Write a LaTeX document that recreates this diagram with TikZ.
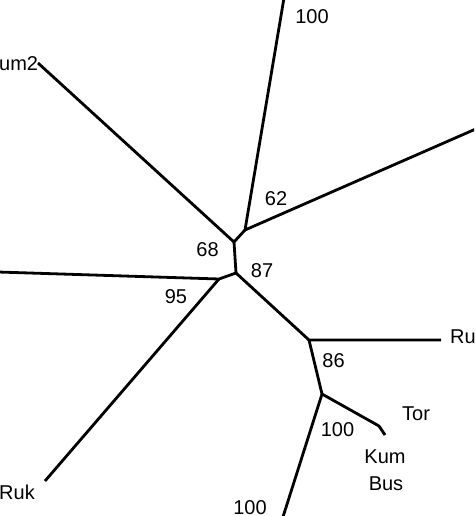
\documentclass[tikz,border=0pt]{standalone}
\usepackage{fontspec}
\setmainfont{Liberation Sans}
\begin{document}
\begin{tikzpicture}[x=1pt,y=-1pt,
  br/.style={line width=2.8pt,line join=round,line cap=butt},
  lbl/.style={inner sep=0pt,font=\fontsize{20}{22}\selectfont}]
\useasboundingbox (0,0) rectangle (474,516);
\clip (0,0) rectangle (474,516);
% internal nodes
\coordinate (A) at (245,230);
\coordinate (B) at (234,242);
\coordinate (C) at (236,273);
\coordinate (D) at (219,279);
\coordinate (E) at (309,340);
\coordinate (F) at (322,394);
% leaves
\coordinate (Ltop) at (284,-2);
\coordinate (Lright) at (478,128);
\coordinate (Lum) at (38,63);
\coordinate (Lleft) at (-2,272);
\coordinate (Lruk) at (45,481);
\coordinate (Lru) at (441,340);
\coordinate (Ltk1) at (379,426);
\coordinate (Ltk2) at (385,435);
\coordinate (Lbot) at (282,520);
% branches
\draw[br] (Ltop) -- (A) -- (Lright);
\draw[br] (A) -- (B) -- (Lum);
\draw[br] (B) -- (C) -- (D) -- (Lleft);
\draw[br] (D) -- (Lruk);
\draw[br] (C) -- (E) -- (Lru);
\draw[br] (E) -- (F) -- (Ltk1) -- (Ltk2);
\draw[br] (F) -- (Lbot);
% labels
\node[lbl] (t100) at (312,17) {100};
\node[lbl,anchor=west] (tum) at (-1,64) {um2};
\node[lbl] (t62) at (276,199) {62};
\node[lbl] (t68) at (207.5,250) {68};
\node[lbl] (t87) at (262,270.5) {87};
\node[lbl] (t95) at (176,296.5) {95};
\node[lbl,anchor=west] (tru) at (450,337) {Ru};
\node[lbl] (t86) at (333.5,361) {86};
\node[lbl] (ttor) at (416,414) {Tor};
\node[lbl] (t100b) at (337.5,430) {100};
\node[lbl] (tkum) at (385,457) {Kum};
\node[lbl] (tbus) at (386,484) {Bus};
\node[lbl,anchor=west] (truk) at (-1,492) {Ruk};
\node[lbl] (t100c) at (250,508) {100};
\end{tikzpicture}
\end{document}
